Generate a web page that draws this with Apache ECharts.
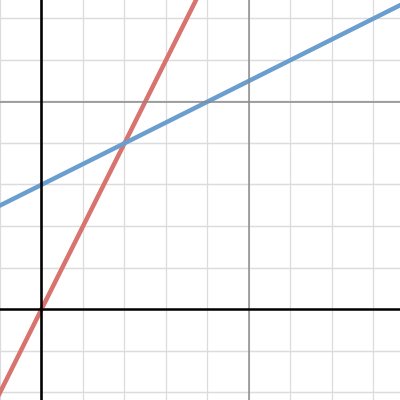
<!DOCTYPE html>
<html><head><meta charset="utf-8">
<script src="https://cdn.jsdelivr.net/npm/echarts@6/dist/echarts.min.js"></script>
<style>html,body{margin:0;padding:0;background:#fff;overflow:hidden;width:400px;height:400px}
#wrap{position:relative;width:400px;height:400px;overflow:hidden}
#c{position:absolute}</style>
</head><body><div id="wrap"><div id="c"></div></div>
<script>
const redLine = [[-1.2,-2.4],[0,0],[2,4],[4,8]];
const blueLine = [[-1.2,2.4],[0,3],[2,4],[9,7.5]];
const axisLines = [0];
const majorLines = [5];

const unit = 41.5, ox = 41.5, oy = 309.3;
const xMin=-1, xMax=9, yMin=-3, yMax=8;
const el = document.getElementById('c');
el.style.left = (ox + xMin*unit) + 'px';
el.style.top = (oy - yMax*unit) + 'px';
el.style.width = ((xMax-xMin)*unit) + 'px';
el.style.height = ((yMax-yMin)*unit) + 'px';
const chart = echarts.init(el, null, {renderer:'canvas'});
chart.setOption({
  animation:false,
  grid:{left:0,right:0,top:0,bottom:0},
  xAxis:{type:'value',min:xMin,max:xMax,interval:1,axisLine:{show:false},axisTick:{show:false},axisLabel:{show:false},
    splitLine:{lineStyle:{color:'#dcdcdc',width:1.3}}},
  yAxis:{type:'value',min:yMin,max:yMax,interval:1,axisLine:{show:false},axisTick:{show:false},axisLabel:{show:false},
    splitLine:{lineStyle:{color:'#dcdcdc',width:1.3}}},
  series:[
    {type:'line',data:[],silent:true,
     markLine:{symbol:'none',silent:true,label:{show:false},animation:false,
       lineStyle:{color:'#888',width:1.5,type:'solid'},
       data:majorLines.map(v=>({xAxis:v})).concat(majorLines.map(v=>({yAxis:v})))}},
    {type:'line',data:[],silent:true,
     markLine:{symbol:'none',silent:true,label:{show:false},animation:false,
       lineStyle:{color:'#000',width:2.6,type:'solid'},
       data:axisLines.map(v=>({xAxis:v})).concat(axisLines.map(v=>({yAxis:v})))}},
    {type:'line',data:redLine,symbol:'none',clip:true,lineStyle:{color:'#d8736f',width:4.5}},
    {type:'line',data:blueLine,symbol:'none',clip:true,lineStyle:{color:'#6a9ecf',width:4.5}}
  ]
});
</script></body></html>
